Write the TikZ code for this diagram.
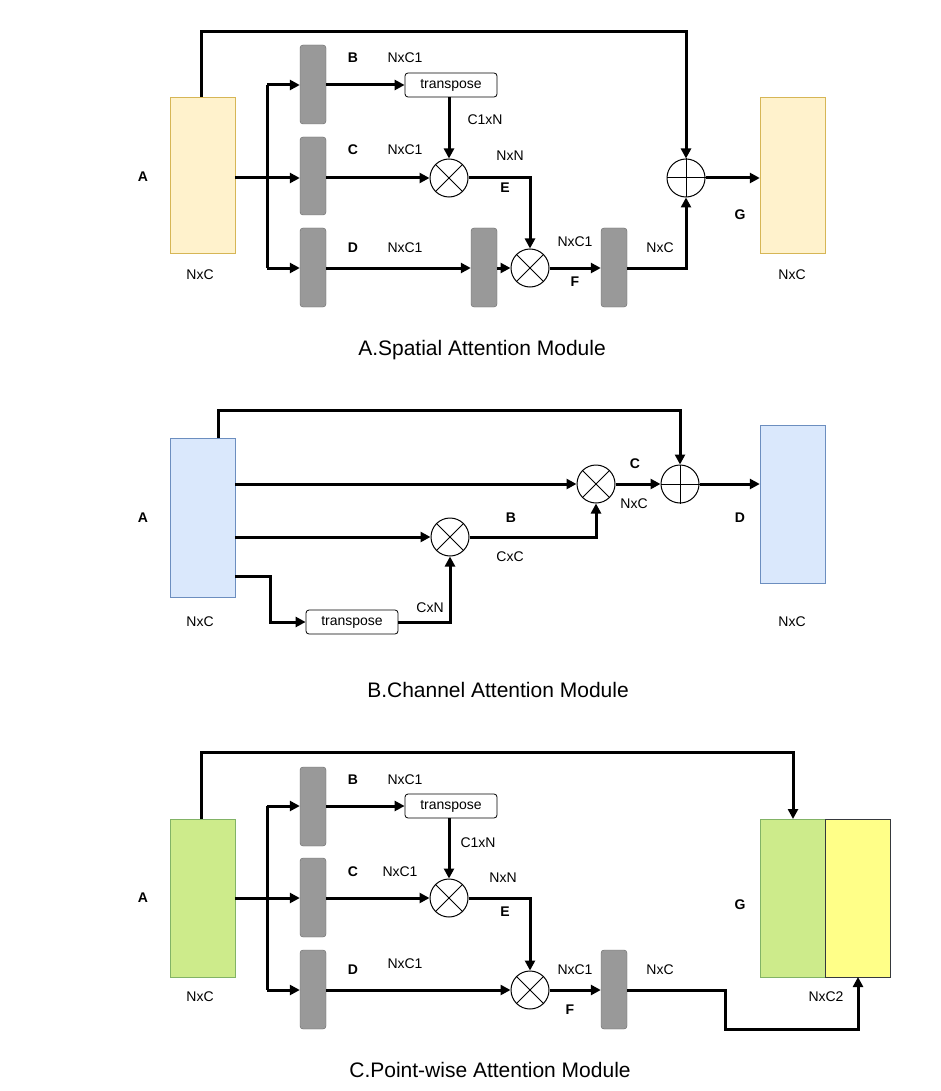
\documentclass[tikz,border=0pt]{standalone}
\usepackage{fontspec}
\setmainfont{Liberation Sans}
\usetikzlibrary{arrows.meta}
\definecolor{yf}{HTML}{FFF2CC}\definecolor{yd}{HTML}{D6B656}
\definecolor{bf}{HTML}{DAE8FC}\definecolor{bd}{HTML}{6C8EBF}
\definecolor{gf}{HTML}{CDEB8B}\definecolor{gd}{HTML}{82B366}
\definecolor{lf}{HTML}{FFFF88}\definecolor{ld}{HTML}{36393D}
\definecolor{gray1}{HTML}{999999}\definecolor{gray2}{HTML}{666666}
\begin{document}
\begin{tikzpicture}[x=1pt,y=-1pt,
 ln/.style={line width=3pt},
 ar/.style={line width=3pt,-{Triangle[length=10pt,width=10pt]}},
 gbox/.style={draw=gray2,fill=gray1,rounded corners=3pt,minimum width=26pt,inner sep=0pt},
 tbox/.style={draw,line width=0.8pt,rounded corners=3pt,minimum width=92pt,minimum height=24pt,inner sep=0pt,font=\fontsize{14}{14}\selectfont},
 op/.style={draw,circle,line width=1pt,minimum size=38pt,inner sep=0pt},
 lab/.style={font=\fontsize{14}{14}\selectfont},
 blab/.style={font=\fontsize{14}{14}\selectfont\bfseries},
 ttl/.style={font=\fontsize{21}{21}\selectfont}]
\useasboundingbox (0,0) rectangle (940,1091);
\newcommand{\mulop}[2]{\node[op] (#1) at #2 {};\draw[line width=1pt] (#1.45)--(#1.225) (#1.135)--(#1.315);}
\newcommand{\addop}[2]{\node[op] (#1) at #2 {};\draw[line width=1pt] (#1.90)--(#1.270) (#1.0)--(#1.180);}
% ================= A
\node[draw=yd,fill=yf,minimum width=65pt,minimum height=156pt,inner sep=0pt] (aA) at (202.5,175) {};
\node[draw=yd,fill=yf,minimum width=65pt,minimum height=156pt,inner sep=0pt] (aG) at (792.5,175) {};
\node[gbox,minimum height=79pt] (aB) at (313,84.5) {};
\node[gbox,minimum height=78pt] (aC) at (313,176) {};
\node[gbox,minimum height=79pt] (aD) at (313,267.5) {};
\node[gbox,minimum height=79pt] (aD2) at (484,267.5) {};
\node[gbox,minimum height=79pt] (aF) at (614,267.5) {};
\node[tbox] (aT) at (451,85) {transpose};
\mulop{aM1}{(449,178)}
\mulop{aM2}{(530,268)}
\addop{aP}{(686,178)}
\coordinate (aS) at (267,178);
\draw[ar] (201,97) |- (686,32) -- (aP.north);
\draw[ar] (aA.east|-aS) -- (aC.west|-aS);
\draw[ln] (267,85) -- (267,268);
\draw[ar] (267,85) -- (aB.west|-0,85);
\draw[ar] (267,268) -- (aD.west|-0,268);
\draw[ar] (aB.east|-0,85) -- (aT.west);
\draw[ar] (aT.south-|aM1) -- (aM1.north);
\draw[ar] (aC.east|-aS) -- (aM1.west);
\draw[ar] (aM1.east) -| (aM2.north);
\draw[ar] (aD.east|-0,268) -- (aD2.west|-0,268);
\draw[ar] (aD2.east|-0,268) -- (aM2.west);
\draw[ar] (aM2.east) -- (aF.west|-0,268);
\draw[ar] (aF.east|-0,268) -| (aP.south);
\draw[ar] (aP.east) -- (aG.west|-aP);
\node[blab] at (143,177) {A};
\node[lab] at (200,275) {NxC};
\node[blab] at (353,58) {B}; \node[lab] at (405,58) {NxC1};
\node[lab] at (485,120) {C1xN};
\node[blab] at (353,150) {C}; \node[lab] at (405,150) {NxC1};
\node[lab] at (510,156) {NxN}; \node[blab] at (505,188) {E};
\node[blab] at (353,248) {D}; \node[lab] at (405,248) {NxC1};
\node[lab] at (575,242) {NxC1}; \node[blab] at (575,282) {F};
\node[lab] at (660,248) {NxC};
\node[blab] at (740,215) {G}; \node[lab] at (792,275) {NxC};
\node[ttl] at (482,350) {A.Spatial Attention Module};
% ================= B
\node[draw=bd,fill=bf,minimum width=65pt,minimum height=159pt,inner sep=0pt] (bA) at (202.5,517.5) {};
\node[draw=bd,fill=bf,minimum width=65pt,minimum height=158pt,inner sep=0pt] (bD) at (792.5,504) {};
\mulop{bM1}{(450,537)}
\mulop{bM2}{(596,484)}
\addop{bP}{(680,484)}
\node[tbox] (bT) at (352,622) {transpose};
\draw[ar] (218,438) |- (680,410) -- (bP.north);
\draw[ar] (bA.east|-bM2) -- (bM2.west);
\draw[ar] (bA.east|-bM1) -- (bM1.west);
\draw[ar] (235,576) -| (270,622) -- (bT.west);
\draw[ar] (bT.east) -| (bM1.south);
\draw[ar] (bM1.east) -| (bM2.south);
\draw[ar] (bM2.east) -- (bP.west);
\draw[ar] (bP.east) -- (bD.west|-bP);
\node[blab] at (143,518) {A}; \node[lab] at (200,622) {NxC};
\node[lab] at (430,608) {CxN};
\node[blab] at (511,518) {B}; \node[lab] at (510,557) {CxC};
\node[blab] at (635,464) {C}; \node[lab] at (634,504) {NxC};
\node[blab] at (740,518) {D}; \node[lab] at (792,622) {NxC};
\node[ttl] at (498,690) {B.Channel Attention Module};
% ================= C
\node[draw=gd,fill=gf,minimum width=65pt,minimum height=158pt,inner sep=0pt] (cA) at (202.5,898) {};
\node[draw=gd,fill=gf,minimum width=65pt,minimum height=158pt,inner sep=0pt] (cG1) at (792.5,898) {};
\node[draw=ld,fill=lf,minimum width=65pt,minimum height=158pt,inner sep=0pt] (cG2) at (857.5,898) {};
\node[gbox,minimum height=79pt] (cB) at (313,806.5) {};
\node[gbox,minimum height=79pt] (cC) at (313,897.5) {};
\node[gbox,minimum height=79pt] (cD) at (313,989.5) {};
\node[gbox,minimum height=79pt] (cF) at (614,989.5) {};
\node[tbox] (cT) at (451,806) {transpose};
\mulop{cM1}{(449,898)}
\mulop{cM2}{(530,990)}
\coordinate (cS) at (267,898);
\draw[ar] (201,819) |- (793,752) -- (793,819);
\draw[ar] (cA.east|-cS) -- (cC.west|-cS);
\draw[ln] (267,806) -- (267,990);
\draw[ar] (267,806) -- (cB.west|-0,806);
\draw[ar] (267,990) -- (cD.west|-0,990);
\draw[ar] (cB.east|-0,806) -- (cT.west);
\draw[ar] (cT.south-|cM1) -- (cM1.north);
\draw[ar] (cC.east|-cS) -- (cM1.west);
\draw[ar] (cM1.east) -| (cM2.north);
\draw[ar] (cD.east|-0,990) -- (cM2.west);
\draw[ar] (cM2.east) -- (cF.west|-0,990);
\draw[ar] (cF.east|-0,990) -| (725,1029) -| (858,977);
\node[blab] at (143,898) {A}; \node[lab] at (200,997) {NxC};
\node[blab] at (353,780) {B}; \node[lab] at (405,780) {NxC1};
\node[lab] at (478,843) {C1xN};
\node[blab] at (353,872) {C}; \node[lab] at (400,872) {NxC1};
\node[lab] at (503,878) {NxN}; \node[blab] at (505,912) {E};
\node[blab] at (353,970) {D}; \node[lab] at (405,964) {NxC1};
\node[lab] at (575,970) {NxC1}; \node[blab] at (570,1010) {F};
\node[lab] at (660,970) {NxC};
\node[blab] at (740,905) {G}; \node[lab] at (826,997) {NxC2};
\node[ttl] at (490,1070) {C.Point-wise Attention Module};
\end{tikzpicture}
\end{document}
